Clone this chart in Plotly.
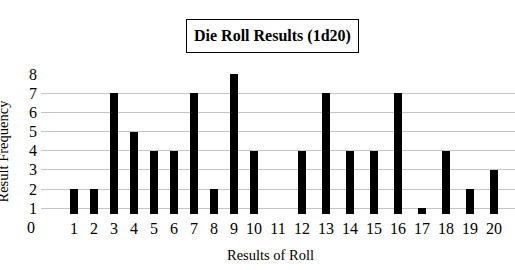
import plotly.graph_objects as go

# Data
rolls = list(range(1, 21))
freq = [2, 2, 7, 5, 4, 4, 7, 2, 8, 4, 0, 4, 7, 4, 4, 7, 1, 4, 2, 3]
y_ticks = [1, 2, 3, 4, 5, 6, 7, 8]
title_text = "Die Roll Results (1d20)"
x_title = "Results of Roll"
y_title = "Result Frequency"
zero_label = "0"

FONT = "Liberation Serif"
W, H = 515, 270
ML, MR, MT, MB = 41, 0, 73, 56
split_px = 264
d = (split_px - ML) / (W - ML - MR)

fig = go.Figure()
fig.add_trace(go.Bar(x=rolls[:10], y=freq[:10], marker_color="black",
                     marker_line_width=0, width=0.4, xaxis="x", yaxis="y"))
fig.add_trace(go.Bar(x=rolls[10:], y=freq[10:], marker_color="black",
                     marker_line_width=0, width=8/24, xaxis="x2", yaxis="y"))

tickfont = dict(family=FONT, size=16, color="black")
fig.update_layout(
    width=W, height=H,
    margin=dict(l=ML, r=MR, t=MT, b=MB),
    paper_bgcolor="white", plot_bgcolor="white",
    showlegend=False,
    bargap=0,
    xaxis=dict(domain=[0, d], range=[-0.65, 10.5], tickmode="array",
               tickvals=rolls[:10], ticktext=[str(r) for r in rolls[:10]],
               showgrid=False, zeroline=False, showline=False, ticks="",
               tickfont=tickfont, fixedrange=True, ticklabelstandoff=3),
    xaxis2=dict(domain=[d, 1], range=[10.417, 20.875], tickmode="array",
                tickvals=rolls[10:], ticktext=[str(r) for r in rolls[10:]],
                showgrid=False, zeroline=False, showline=False, ticks="",
                tickfont=tickfont, anchor="y", fixedrange=True,
                ticklabelstandoff=3),
    yaxis=dict(range=[0.7, 8.05], tickmode="array", tickvals=y_ticks,
               showgrid=True, gridcolor="#c4c4c4", gridwidth=1,
               zeroline=False, showline=False, ticks="",
               tickfont=tickfont, fixedrange=True, ticklabelstandoff=3),
)

fig.add_annotation(text=f"<b>{title_text}</b>", xref="paper", yref="paper",
                   x=(272 - ML) / (W - ML), y=1, yshift=MT - 36, yanchor="middle",
                   xanchor="center", showarrow=False,
                   font=dict(family=FONT, size=16, color="black"),
                   bordercolor="black", borderwidth=1, borderpad=7,
                   bgcolor="white")
fig.add_annotation(text=zero_label, xref="paper", yref="paper", x=0, y=0,
                   xanchor="right", yanchor="middle", xshift=-4,
                   yshift=-(227 - (H - MB)),
                   showarrow=False, font=tickfont)
fig.add_annotation(text=x_title, xref="paper", yref="paper",
                   x=(270 - ML) / (W - ML), y=0, yshift=-(255 - (H - MB)),
                   xanchor="center", yanchor="middle", showarrow=False,
                   font=dict(family=FONT, size=14.5, color="black"))
fig.add_annotation(text=y_title, xref="paper", yref="paper",
                   x=(2.5 - ML) / (W - ML), y=(H - MB - 151) / (H - MT - MB),
                   xanchor="center", yanchor="middle", textangle=-90,
                   showarrow=False,
                   font=dict(family=FONT, size=14.5, color="black"))

fig.write_html("out.html")
